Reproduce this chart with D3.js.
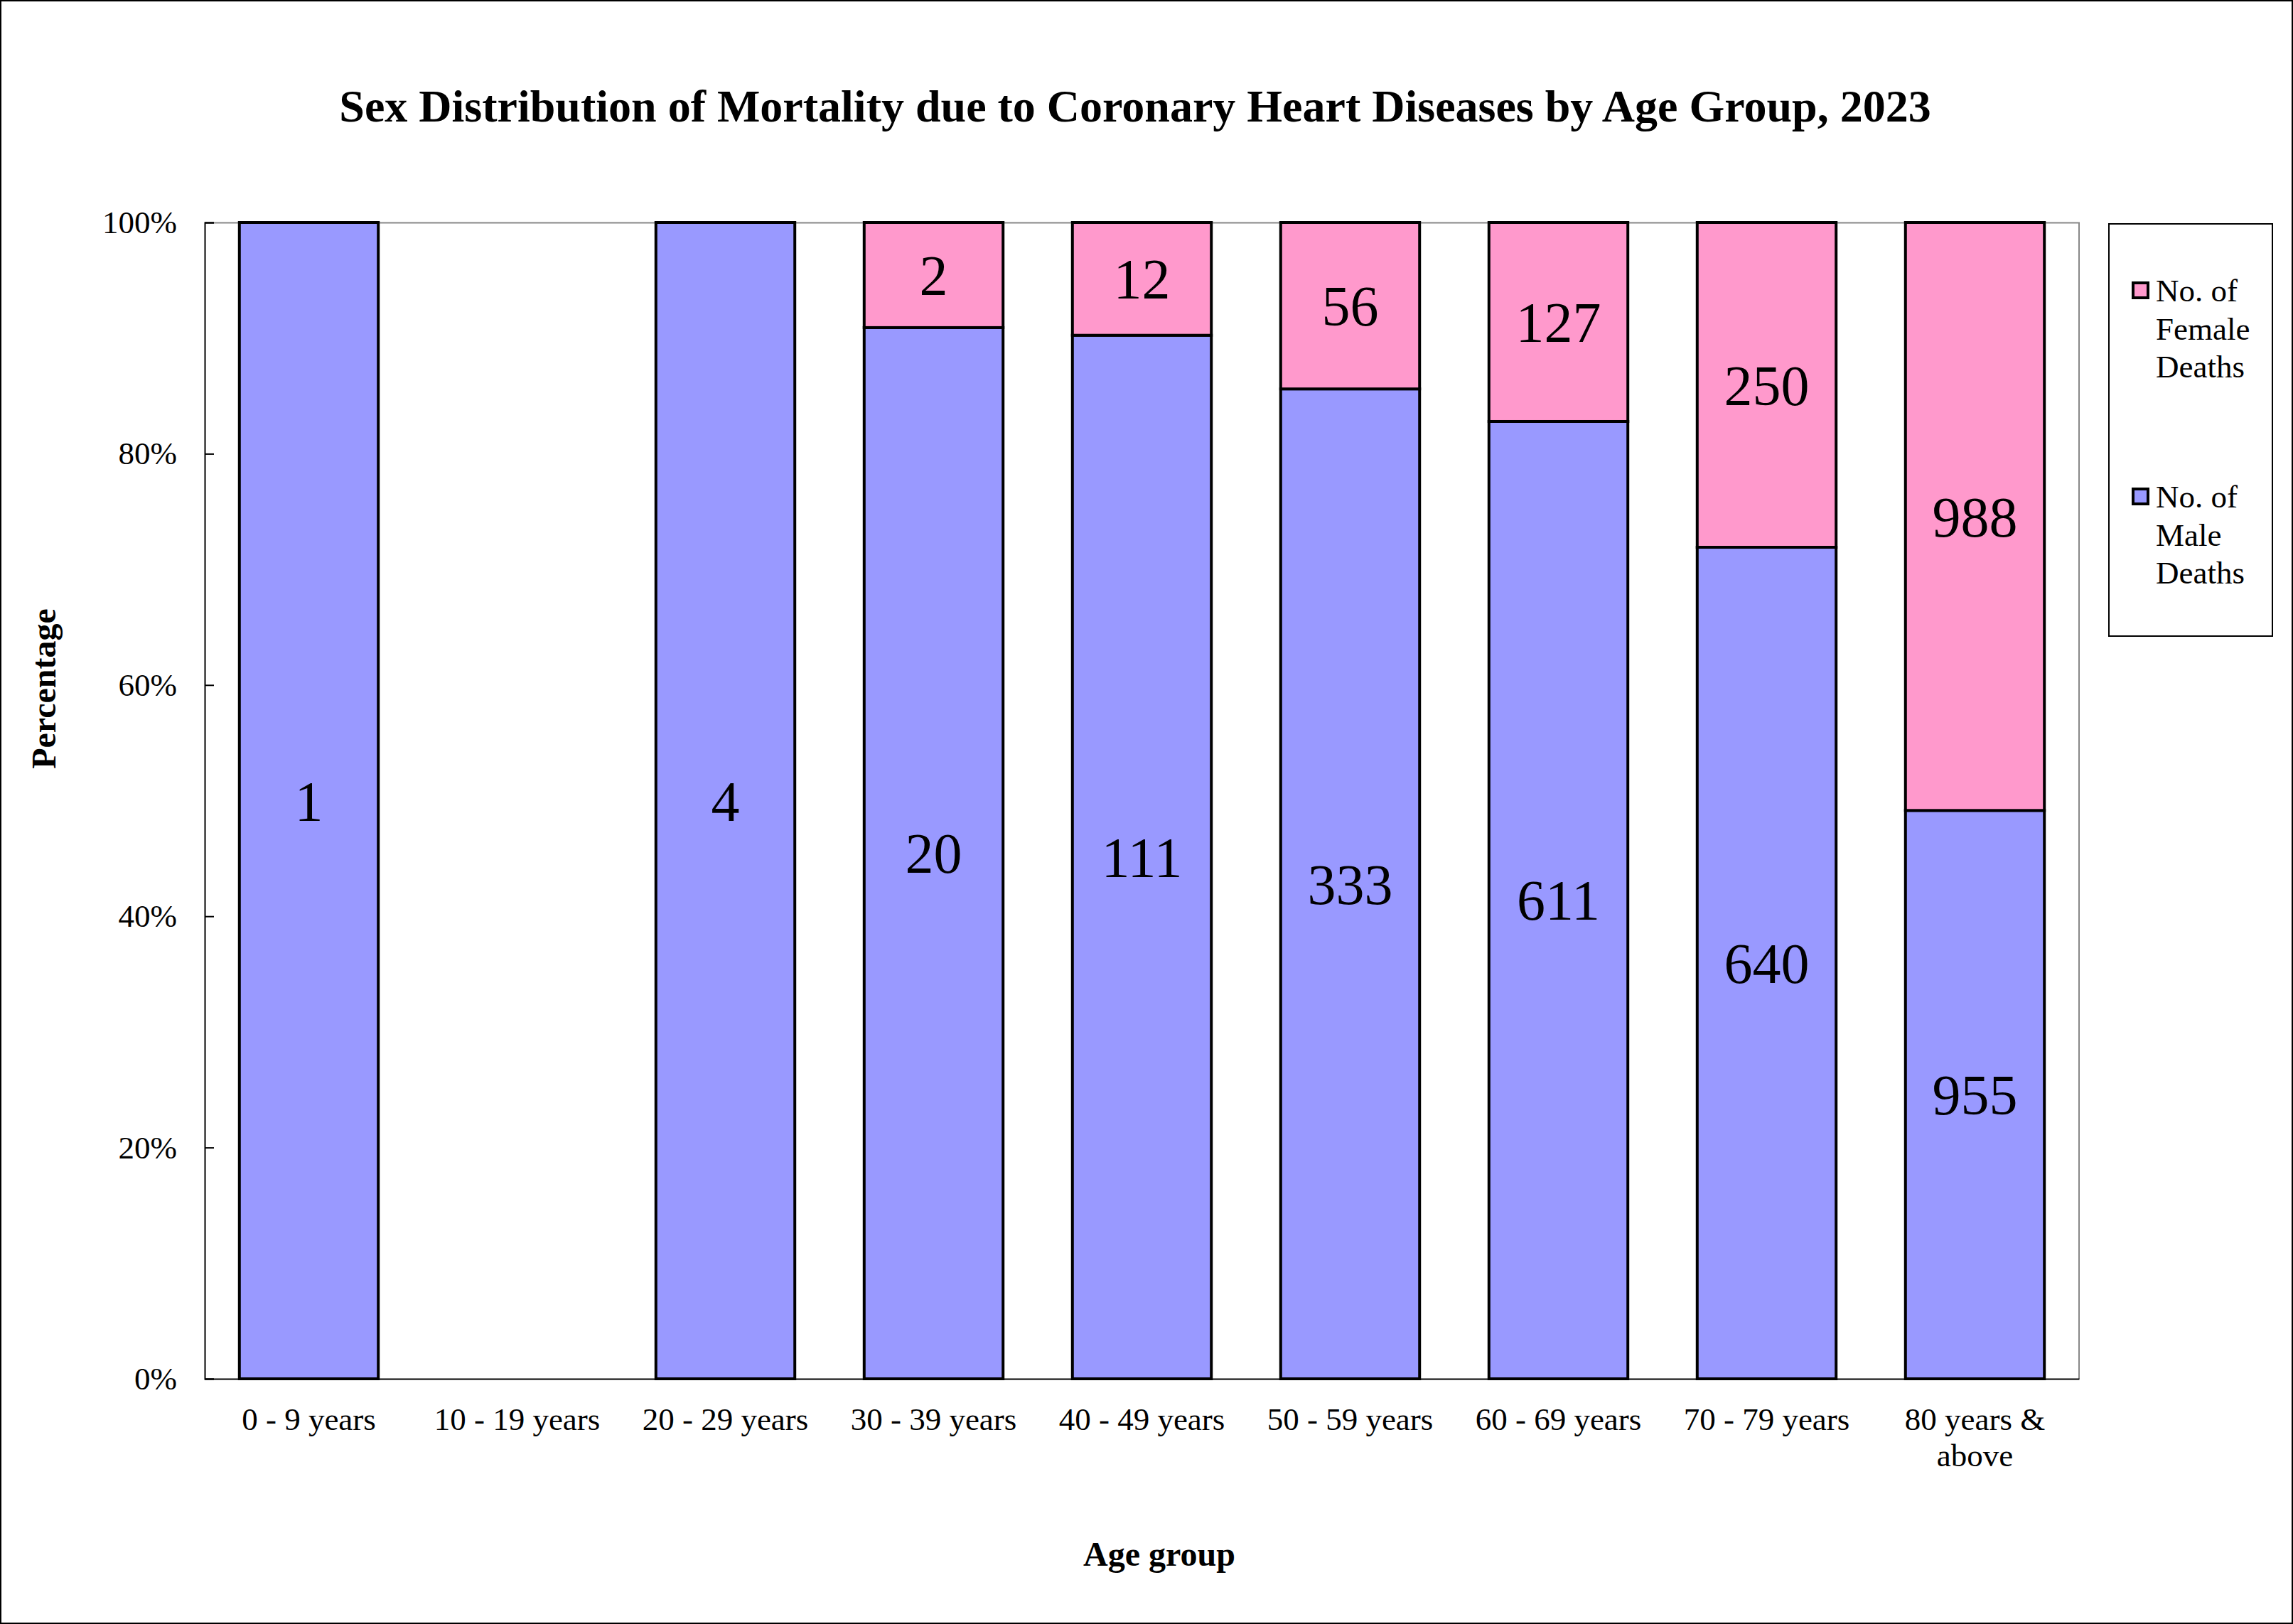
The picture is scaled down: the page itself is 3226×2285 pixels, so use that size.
<!DOCTYPE html>
<html>
<head>
<meta charset="utf-8">
<script src="https://cdn.jsdelivr.net/npm/d3@7"></script>
<style>
  body { margin: 0; background: #fff; }
  text { font-family: "Liberation Serif", "Times New Roman", serif; }
</style>
</head>
<body>
<script>
// data
var ageGroups = ["0 - 9 years", "10 - 19 years", "20 - 29 years", "30 - 39 years", "40 - 49 years",
                 "50 - 59 years", "60 - 69 years", "70 - 79 years", "80 years & above"];
var maleDeaths = [1, 0, 4, 20, 111, 333, 611, 640, 955];
var femaleDeaths = [0, 0, 0, 2, 12, 56, 127, 250, 988];
var yTicks = [0, 0.2, 0.4, 0.6, 0.8, 1];

var width = 3226, height = 2285;
var margin = { left: 288, right: 301, top: 313, bottom: 345 };
var plotW = width - margin.left - margin.right;
var plotH = height - margin.top - margin.bottom;

var maleColor = "#9999FF", femaleColor = "#FF99CC";

const svg = d3.select("body")
    .append("svg")
    .attr("width", width)
    .attr("height", height);

svg.append("rect")
    .attr("x", 1).attr("y", 1)
    .attr("width", width - 2).attr("height", height - 2)
    .attr("fill", "#fff").attr("stroke", "#000").attr("stroke-width", 2);

svg.append("text")
    .attr("x", 1597).attr("y", 171)
    .attr("text-anchor", "middle")
    .attr("font-weight", "bold")
    .attr("font-size", 64)
    .text("Sex Distribution of Mortality due to Coronary Heart Diseases by Age Group, 2023");

const g = svg.append("g").attr("transform", "translate(" + margin.left + "," + margin.top + ")");

const x = d3.scaleBand().domain(ageGroups).range([0, plotW]).paddingInner(0.333).paddingOuter(0.1665);
const y = d3.scaleLinear().domain([0, 1]).range([plotH, 0]);

// plot frame (top/right grey)
g.append("path")
    .attr("d", "M0,0.5H" + plotW + "V" + plotH)
    .attr("fill", "none").attr("stroke", "#888").attr("stroke-width", 2);

// stacked shares
var rows = ageGroups.map(function (a, i) {
    var tot = maleDeaths[i] + femaleDeaths[i];
    return { age: a, male: maleDeaths[i], female: femaleDeaths[i],
             mp: tot ? maleDeaths[i] / tot : 0, fp: tot ? femaleDeaths[i] / tot : 0 };
});

var segs = [];
rows.forEach(function (r) {
    if (r.male > 0) segs.push({ age: r.age, y0: 0, y1: r.mp, v: r.male, c: maleColor });
    if (r.female > 0) segs.push({ age: r.age, y0: r.mp, y1: r.mp + r.fp, v: r.female, c: femaleColor });
});

g.selectAll("rect.seg")
    .data(segs)
    .enter()
    .append("rect")
    .attr("class", "seg")
    .attr("x", function (d) { return x(d.age); })
    .attr("y", function (d) { return y(d.y1); })
    .attr("width", x.bandwidth())
    .attr("height", function (d) { return y(d.y0) - y(d.y1); })
    .attr("fill", function (d) { return d.c; })
    .attr("stroke", "#000")
    .attr("stroke-width", 4);

g.selectAll("text.val")
    .data(segs)
    .enter()
    .append("text")
    .attr("class", "val")
    .attr("x", function (d) { return x(d.age) + x.bandwidth() / 2; })
    .attr("y", function (d) { return y((d.y0 + d.y1) / 2); })
    .attr("dy", "0.35em")
    .attr("text-anchor", "middle")
    .attr("font-size", 80)
    .text(function (d) { return d.v; });

// axes
const yAxis = g.append("g")
    .call(d3.axisLeft(y).tickValues(yTicks).tickFormat(d3.format(".0%")).tickSize(-13).tickPadding(39));
yAxis.selectAll("text").attr("font-size", 45).attr("font-family", "Liberation Serif").attr("fill", "#000");
yAxis.selectAll("line").attr("stroke", "#000").attr("stroke-width", 2);
yAxis.select(".domain").attr("stroke", "#000").attr("stroke-width", 2);

const xAxis = g.append("g")
    .attr("transform", "translate(0," + plotH + ")")
    .call(d3.axisBottom(x).tickSize(0).tickPadding(40));
xAxis.select(".domain").attr("stroke", "#000").attr("stroke-width", 2);
xAxis.selectAll("text")
    .attr("font-size", 45).attr("font-family", "Liberation Serif").attr("fill", "#000")
    .each(function (d) {
        var t = d3.select(this);
        if (d === "80 years & above") {
            t.text(null);
            t.append("tspan").attr("x", 0).text("80 years &");
            t.append("tspan").attr("x", 0).attr("dy", 51).text("above");
        }
    });

svg.append("text")
    .attr("transform", "translate(78,969) rotate(-90)")
    .attr("text-anchor", "middle")
    .attr("font-weight", "bold")
    .attr("font-size", 48)
    .text("Percentage");

svg.append("text")
    .attr("x", 1631).attr("y", 2203)
    .attr("text-anchor", "middle")
    .attr("font-weight", "bold")
    .attr("font-size", 48)
    .text("Age group");

// legend
var legendItems = [
    { lines: ["No. of", "Female", "Deaths"], c: femaleColor },
    { lines: ["No. of", "Male", "Deaths"], c: maleColor }
];
const lg = svg.append("g");
lg.append("rect")
    .attr("x", 2967).attr("y", 315).attr("width", 230).attr("height", 580)
    .attr("fill", "#fff").attr("stroke", "#000").attr("stroke-width", 2);
legendItems.forEach(function (it, i) {
    var top = 409 + i * 290;
    lg.append("rect")
        .attr("x", 3001).attr("y", top - 11).attr("width", 21).attr("height", 21)
        .attr("fill", it.c).attr("stroke", "#000").attr("stroke-width", 4);
    var t = lg.append("text").attr("font-size", 45);
    it.lines.forEach(function (l, j) {
        t.append("tspan").attr("x", 3033).attr("y", top + 15 + j * 53.5).text(l);
    });
});
</script>
</body>
</html>
